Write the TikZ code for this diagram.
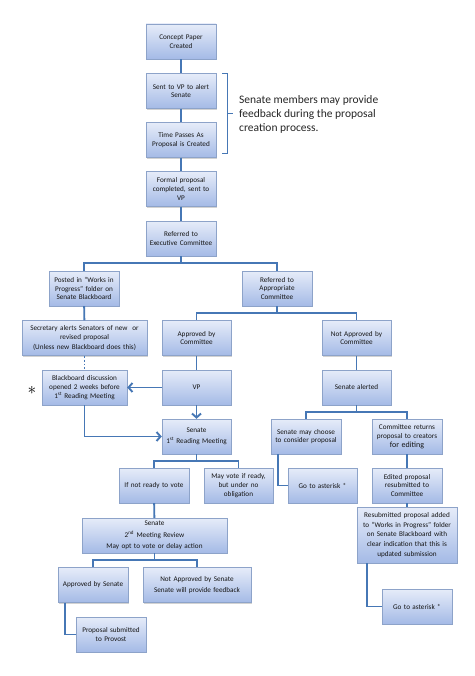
\documentclass[tikz,border=0pt]{standalone}
\usepackage{fontspec}
\setmainfont{Carlito}
\usepackage{xcolor}
\usepackage{tikz}
\usetikzlibrary{arrows.meta,positioning,shadows,calc}

\definecolor{linkblue}{HTML}{4677B5}
\definecolor{boxtop}{HTML}{E6ECF9}
\definecolor{boxbottom}{HTML}{A4BAE6}
\definecolor{boxline}{HTML}{8DA3C9}
\definecolor{boxtext}{HTML}{151515}

\begin{document}
\begin{tikzpicture}[x=1pt,y=-1pt,>={Straight Barb[length=4pt,width=9pt]}]
  \tikzstyle{box}=[draw=boxline,thin,top color=boxtop,bottom color=boxbottom,text=boxtext,align=center,text width=66pt,minimum height=35pt,inner sep=2pt,font=\fontsize{7.2}{8.8}\selectfont,drop shadow={shadow xshift=1pt,shadow yshift=-1.2pt,opacity=0.35}]
  \tikzstyle{link}=[draw=linkblue,line width=1.9pt]

  \fill[white] (0,0) rectangle (474,676);

  % proposal creation
  \node[box] (concept) at (181,41.5) {Concept Paper\\Created};
  \node[box] (sentvp) at (181,91) {Sent to VP to alert\\Senate};
  \node[box] (timepasses) at (181,140) {Time Passes As\\Proposal is Created};
  \node[box] (formal) at (181,189) {Formal proposal\\completed, sent to\\VP};
  \node[box] (exec) at (181,238.5) {Referred to\\Executive Committee};

  % left branch
  \node[box] (posted) at (84,288.5) {Posted in “Works in\\Progress” folder on\\Senate Blackboard};
  \node[box,text width=121pt] (secretary) at (84.5,338) {Secretary alerts Senators of new~ or\\revised proposal\\[2pt](Unless new Blackboard does this)};
  \node[box,text width=81pt] (blackboard) at (84.5,387.5) {Blackboard discussion\\opened 2 weeks before\\1\textsuperscript{st} Reading Meeting};
  \node[font=\LARGE] (star) at (32,390) {$\ast$};

  % committee
  \node[box] (approp) at (277,288.5) {Referred to\\Appropriate\\Committee};
  \node[box,text width=65pt] (approved) at (196.5,338) {Approved by\\Committee};
  \node[box,text width=65pt] (notapproved) at (356.5,338) {Not Approved by\\Committee};
  \node[box,text width=65pt] (vp) at (196.5,387.5) {VP};
  \node[box,text width=65pt] (alerted) at (356.5,387.5) {Senate alerted};

  % senate first reading
  \node[box,text width=65pt] (senate1) at (196.5,436.5) {Senate\\[2.5pt]1\textsuperscript{st} Reading Meeting};
  \node[box] (maychoose) at (306,436.5) {Senate may choose\\to consider proposal};
  \node[box] (returns) at (407,436.5) {Committee returns\\proposal to creators\\{\fontsize{8}{9}\selectfont for editing}};
  \node[box] (notready) at (154,485.5) {If not ready to vote};
  \node[box,text width=65pt] (mayvote) at (238.5,485.5) {May vote if ready,\\but under no\\obligation};
  \node[box,text width=65pt] (gotoa) at (322.5,485.5) {Go to asterisk *};
  \node[box] (edited) at (407,485.5) {Edited proposal\\resubmitted to\\Committee};
  \node[box,text width=96pt,minimum height=56pt,font=\fontsize{7.2}{9.6}\selectfont] (resub) at (407,535) {Resubmitted proposal added\\to “Works in Progress” folder\\on Senate Blackboard with\\clear indication that this is\\updated submission};
  \node[box] (gotob) at (417,606.5) {Go to asterisk *};

  % senate second meeting
  \node[box,text width=141pt] (senate2) at (154.5,535.5) {Senate\\[2.5pt]2\textsuperscript{nd} Meeting Review\\[2.5pt]May opt to vote or delay action};
  \node[box] (apprsenate) at (93,585) {Approved by Senate};
  \node[box,text width=104pt] (notapprsenate) at (197,585) {Not Approved by Senate\\[2.5pt]Senate will provide feedback};
  \node[box] (provost) at (111,634.5) {Proposal submitted\\to Provost};

  % side note
  \coordinate (bracetop) at ([xshift=11pt]sentvp.north east);
  \coordinate (bracebot) at ([xshift=11pt,yshift=4.5pt]timepasses.south east);
  \draw[link,line width=1.3pt] ([xshift=-5pt]bracetop) -- (bracetop) -- (bracebot) -- ([xshift=-5pt]bracebot);
  \draw[link,line width=1.3pt] ($(bracetop)!0.5!(bracebot)$) -- ++(6,0);
  \node[anchor=west,inner sep=0pt,align=left,text=black!85,font=\fontsize{11.5}{14}\selectfont] (feedback) at (239,114) {Senate members may provide\\feedback during the proposal\\creation process.};

  % connectors
  \draw[link] (concept) -- (sentvp);
  \draw[link] (sentvp) -- (timepasses);
  \draw[link] (timepasses) -- (formal);
  \draw[link] (formal) -- (exec);
  \draw[link] (exec.south) -- ++(0,7) -| (posted.north);
  \draw[link] (exec.south) -- ++(0,7) -| (approp.north);
  \draw[link] (posted) -- (secretary);
  \draw[link,dotted] (secretary) -- (blackboard);
  \draw[link] (approp.south) -- ++(0,7) -| (approved.north);
  \draw[link] (approp.south) -- ++(0,7) -| (notapproved.north);
  \draw[link] (approved) -- (vp);
  \draw[link,->] (vp) -- (blackboard);
  \draw[link,->] (vp) -- (senate1);
  \draw[link,->] (blackboard.south) |- (senate1.west);
  \draw[link] (notapproved) -- (alerted);
  \draw[link] (alerted.south) -- ++(0,7) -| (maychoose.north);
  \draw[link] (alerted.south) -- ++(0,7) -| (returns.north);
  \draw[link] ([xshift=7pt]maychoose.south west) |- (gotoa.west);
  \draw[link] (returns) -- (edited);
  \draw[link] (edited) -- (resub);
  \draw[link] ([xshift=10pt]resub.south west) |- (gotob.west);
  \draw[link] (senate1.south) -- ++(0,7) -| (notready.north);
  \draw[link] (senate1.south) -- ++(0,7) -| (mayvote.north);
  \draw[link] (notready) -- (senate2);
  \draw[link] (senate2.south) -- ++(0,7) -| (apprsenate.north);
  \draw[link] (senate2.south) -- ++(0,7) -| (notapprsenate.north);
  \draw[link] ([xshift=7pt]apprsenate.south west) |- (provost.west);
\end{tikzpicture}
\end{document}
